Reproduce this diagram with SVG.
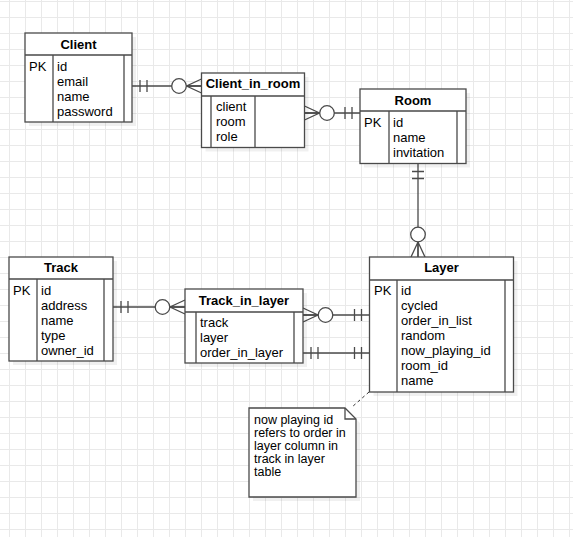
<svg xmlns="http://www.w3.org/2000/svg" width="573" height="537" viewBox="0 0 573 537">
<style>
.box{fill:#fff;stroke:#4a4a4a;stroke-width:1.3}
.ln{fill:none;stroke:#4a4a4a;stroke-width:1.3}
.sh{fill:#000;fill-opacity:0.06}
.t{font-family:"Liberation Sans",Arial,sans-serif;font-size:13px;fill:#000}
.h{font-family:"Liberation Sans",Arial,sans-serif;font-size:13px;font-weight:bold;fill:#000;text-anchor:middle}
.n{font-family:"Liberation Sans",Arial,sans-serif;font-size:12.5px;fill:#000}
.dash{fill:none;stroke:#333;stroke-width:1;stroke-dasharray:3 3}
</style>
<defs>
<pattern id="grid" patternUnits="userSpaceOnUse" x="9" y="1" width="16" height="16">
<rect x="0" y="0" width="1" height="16" fill="#e9e9e9"/>
<rect x="0" y="0" width="16" height="1" fill="#e9e9e9"/>
</pattern>
<g id="one" class="ln"><path d="M8 -6 V6 M15 -6 V6"/></g>
<g id="zmany"><path class="ln" d="M0 -7 L15 0 L0 7 M0 0 H15"/><circle class="box" cx="22.5" cy="0" r="7.3"/></g>
</defs>
<rect width="573" height="537" fill="#fff"/>
<rect width="573" height="537" fill="url(#grid)"/>

<g id="connectors">
<path class="ln" d="M132 86 H201.5"/>
<use href="#one" transform="translate(132,86)"/>
<use href="#zmany" transform="translate(201.5,86) rotate(180)"/>
<path class="ln" d="M304.5 113 H360"/>
<use href="#zmany" transform="translate(304.5,113)"/>
<use href="#one" transform="translate(360,113) rotate(180)"/>
<path class="ln" d="M418 163.5 V257"/>
<use href="#one" transform="translate(418,163.5) rotate(90)"/>
<use href="#zmany" transform="translate(418,257) rotate(-90)"/>
<path class="ln" d="M113 307 H185"/>
<use href="#one" transform="translate(113,307)"/>
<use href="#zmany" transform="translate(185,307) rotate(180)"/>
<path class="ln" d="M303 315 H369.5"/>
<use href="#zmany" transform="translate(303,315)"/>
<use href="#one" transform="translate(369.5,315) rotate(180)"/>
<path class="ln" d="M303 353 H369.5"/>
<use href="#one" transform="translate(303,353)"/>
<use href="#one" transform="translate(369.5,353) rotate(180)"/>
<path class="dash" d="M369 392 L352 407"/>
</g>

<g id="client">
<rect class="sh" x="29" y="37" width="107" height="89"/>
<rect class="box" x="25" y="33" width="107" height="89"/>
<path class="ln" d="M25 55 H132 M53 55 V122 M124 55 V122"/>
<text class="h" x="78.5" y="48.5">Client</text>
<text class="t" x="29" y="70.5">PK</text>
<text class="t" x="57" y="70.5">id</text>
<text class="t" x="57" y="85.5">email</text>
<text class="t" x="57" y="100.5">name</text>
<text class="t" x="57" y="115.5">password</text>
</g>

<g id="client_in_room">
<rect class="sh" x="205.5" y="77" width="103" height="74.5"/>
<rect class="box" x="201.5" y="73" width="103" height="74.5"/>
<path class="ln" d="M201.5 96 H304.5 M211 96 V147.5 M255 96 V147.5"/>
<text class="h" x="253" y="88">Client_in_room</text>
<text class="t" x="216" y="111">client</text>
<text class="t" x="216" y="126">room</text>
<text class="t" x="216" y="141">role</text>
</g>

<g id="room">
<rect class="sh" x="364" y="93" width="106" height="74.5"/>
<rect class="box" x="360" y="89" width="106" height="74.5"/>
<path class="ln" d="M360 111 H466 M389 111 V163.5 M457 111 V163.5"/>
<text class="h" x="413" y="104.5">Room</text>
<text class="t" x="364" y="126.5">PK</text>
<text class="t" x="393" y="126.5">id</text>
<text class="t" x="393" y="141.5">name</text>
<text class="t" x="393" y="156.5">invitation</text>
</g>

<g id="track">
<rect class="sh" x="13" y="261" width="104" height="104"/>
<rect class="box" x="9" y="257" width="104" height="104"/>
<path class="ln" d="M9 279 H113 M37 279 V361 M104 279 V361"/>
<text class="h" x="61" y="272">Track</text>
<text class="t" x="13" y="295">PK</text>
<text class="t" x="41" y="295">id</text>
<text class="t" x="41" y="310">address</text>
<text class="t" x="41" y="325">name</text>
<text class="t" x="41" y="340">type</text>
<text class="t" x="41" y="355">owner_id</text>
</g>

<g id="track_in_layer">
<rect class="sh" x="189" y="293" width="118" height="74"/>
<rect class="box" x="185" y="289" width="118" height="74"/>
<path class="ln" d="M185 312 H303 M196 312 V363 M294 312 V363"/>
<text class="h" x="244" y="305">Track_in_layer</text>
<text class="t" x="200" y="327">track</text>
<text class="t" x="200" y="342">layer</text>
<text class="t" x="200" y="357">order_in_layer</text>
</g>

<g id="layer">
<rect class="sh" x="373.5" y="261" width="144" height="135"/>
<rect class="box" x="369.5" y="257" width="144" height="135"/>
<path class="ln" d="M369.5 280 H513.5 M397 280 V392 M505 280 V392"/>
<text class="h" x="441.5" y="272">Layer</text>
<text class="t" x="374" y="295">PK</text>
<text class="t" x="401" y="295">id</text>
<text class="t" x="401" y="310">cycled</text>
<text class="t" x="401" y="325">order_in_list</text>
<text class="t" x="401" y="340">random</text>
<text class="t" x="401" y="355">now_playing_id</text>
<text class="t" x="401" y="370">room_id</text>
<text class="t" x="401" y="385">name</text>
</g>

<g id="note">
<path class="sh" d="M253 412 H349 L360 423 V501 H253 Z"/>
<path class="box" d="M249 408 H345 L356 419 V497 H249 Z"/>
<path class="ln" d="M345 408 V419 H356"/>
<text class="n" x="254" y="424">now playing id</text>
<text class="n" x="254" y="437">refers to order in</text>
<text class="n" x="254" y="450">layer column in</text>
<text class="n" x="254" y="463">track in layer</text>
<text class="n" x="254" y="476">table</text>
</g>
</svg>
